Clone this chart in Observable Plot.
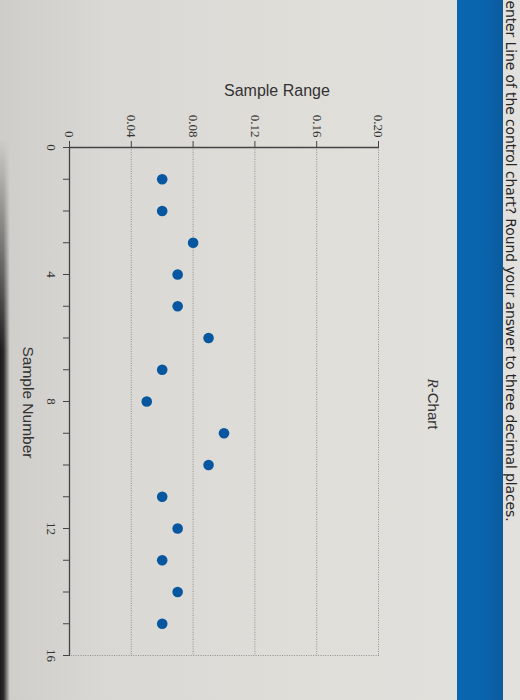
<!DOCTYPE html>
<html>
<head>
<meta charset="utf-8">
<script src="https://cdn.jsdelivr.net/npm/d3@7"></script>
<script src="https://cdn.jsdelivr.net/npm/@observablehq/plot@0.6"></script>
<style>
  html, body { margin: 0; padding: 0; }
  body { width: 520px; height: 700px; overflow: hidden; position: relative; background: #dcdad6; }
  #page {
    position: absolute; left: 0; top: 0; width: 700px; height: 520px;
    transform-origin: 0 0; transform: translate(520px, 0) rotate(90deg);
    background: linear-gradient(to top, #cfcdc9 0%, #dad8d4 20%, #e0ded9 60%, #e3e1dd 100%);
    overflow: hidden;
  }
  #question {
    position: absolute; left: 0.5px; top: 0.5px; white-space: nowrap;
    font-family: "DejaVu Sans", "Open Sans", sans-serif; font-size: 14px; line-height: normal; letter-spacing: -0.13px; color: #262626;
  }
  #bar { position: absolute; left: 0; top: 17px; width: 700px; height: 46px; background: linear-gradient(to bottom, #0b5a9c, #0a64ad 40%, #0a66b0); }
  #title {
    position: absolute; left: 404px; top: 79px; transform: translateX(-50%); white-space: nowrap;
    font-family: "Liberation Sans", Arial, sans-serif; font-size: 15px; line-height: 15px; color: #333;
  }
  #title i { font-family: "Liberation Serif", serif; }
  #bezel { position: absolute; left: 0; top: 506px; width: 700px; height: 14px;
    background: linear-gradient(to bottom, rgba(30,30,30,0), rgba(30,30,30,0.0) 30%, rgba(25,25,25,0.9) 75%, #1a1a1a);
    -webkit-mask-image: linear-gradient(to right, transparent 0, transparent 20%, black 50%);
    mask-image: linear-gradient(to right, transparent 0, transparent 20%, black 50%); }
  #chart { position: absolute; left: 0; top: 0; }
</style>
</head>
<body>
<div id="page">
  <div id="question">enter Line of the control chart? Round your answer to three decimal places.</div>
  <div id="bar"></div>
  <div id="title"><i>R</i>-Chart</div>
  <div id="chart"></div>
  <div id="bezel"></div>
</div>
<script>
// Data
const sampleNumbers = [1, 2, 3, 4, 5, 6, 7, 8, 9, 10, 11, 12, 13, 14, 15];
const sampleRanges = [0.06, 0.06, 0.08, 0.07, 0.07, 0.09, 0.06, 0.05, 0.10, 0.09, 0.06, 0.07, 0.06, 0.07, 0.06];
const xTickValues = [0, 1, 2, 3, 4, 5, 6, 7, 8, 9, 10, 11, 12, 13, 14, 15, 16];
const xTickLabels = [0, 4, 8, 12, 16];
const yTickValues = [0, 0.04, 0.08, 0.12, 0.16, 0.20];
const xLabel = "Sample Number";
const yLabel = "Sample Range";

const data = sampleNumbers.map((s, i) => ({sample: s, range: sampleRanges[i]}));

const grid = {stroke: "#8f8f8f", strokeOpacity: 1, strokeDasharray: "1,1.4", strokeWidth: 1};

const chart = Plot.plot({
  width: 700,
  height: 520,
  marginLeft: 147,
  marginRight: 45,
  marginTop: 141,
  marginBottom: 70,
  style: {background: "transparent", fontFamily: "'Liberation Serif', serif", fontSize: "13px", color: "#333"},
  x: {domain: [0, 16]},
  y: {domain: [0, 0.2]},
  marks: [
    Plot.gridY(yTickValues.slice(1), grid),
    Plot.ruleX([16], grid),
    Plot.axisY(yTickValues, {
      tickFormat: d => d === 0 ? "0" : d.toFixed(2),
      tickSize: 6, tickPadding: 4, stroke: "#444", fill: "#333", label: null
    }),
    Plot.axisX(xTickValues, {
      tickFormat: d => xTickLabels.includes(d) ? String(d) : "",
      tickSize: 7, tickPadding: 6, stroke: "#444", fill: "#333", label: null
    }),
    Plot.ruleX([0], {stroke: "#444", strokeWidth: 1.3}),
    Plot.ruleY([0], {stroke: "#444", strokeWidth: 1.3}),
    Plot.dot(data, {x: "sample", y: "range", r: 5.3, fill: "#0656a0", stroke: "none"}),
    Plot.text([yLabel], {
      text: d => d, frameAnchor: "left", rotate: -90, dx: -57, lineAnchor: "middle",
      fontFamily: "'Liberation Sans', Arial, sans-serif", fontSize: 16, fill: "#333"
    }),
    Plot.text([xLabel], {
      text: d => d, frameAnchor: "bottom", dx: 1, dy: 42, lineAnchor: "middle",
      fontFamily: "'Liberation Sans', Arial, sans-serif", fontSize: 15.5, fill: "#333"
    })
  ]
});
document.getElementById("chart").appendChild(chart);
</script>
</body>
</html>
